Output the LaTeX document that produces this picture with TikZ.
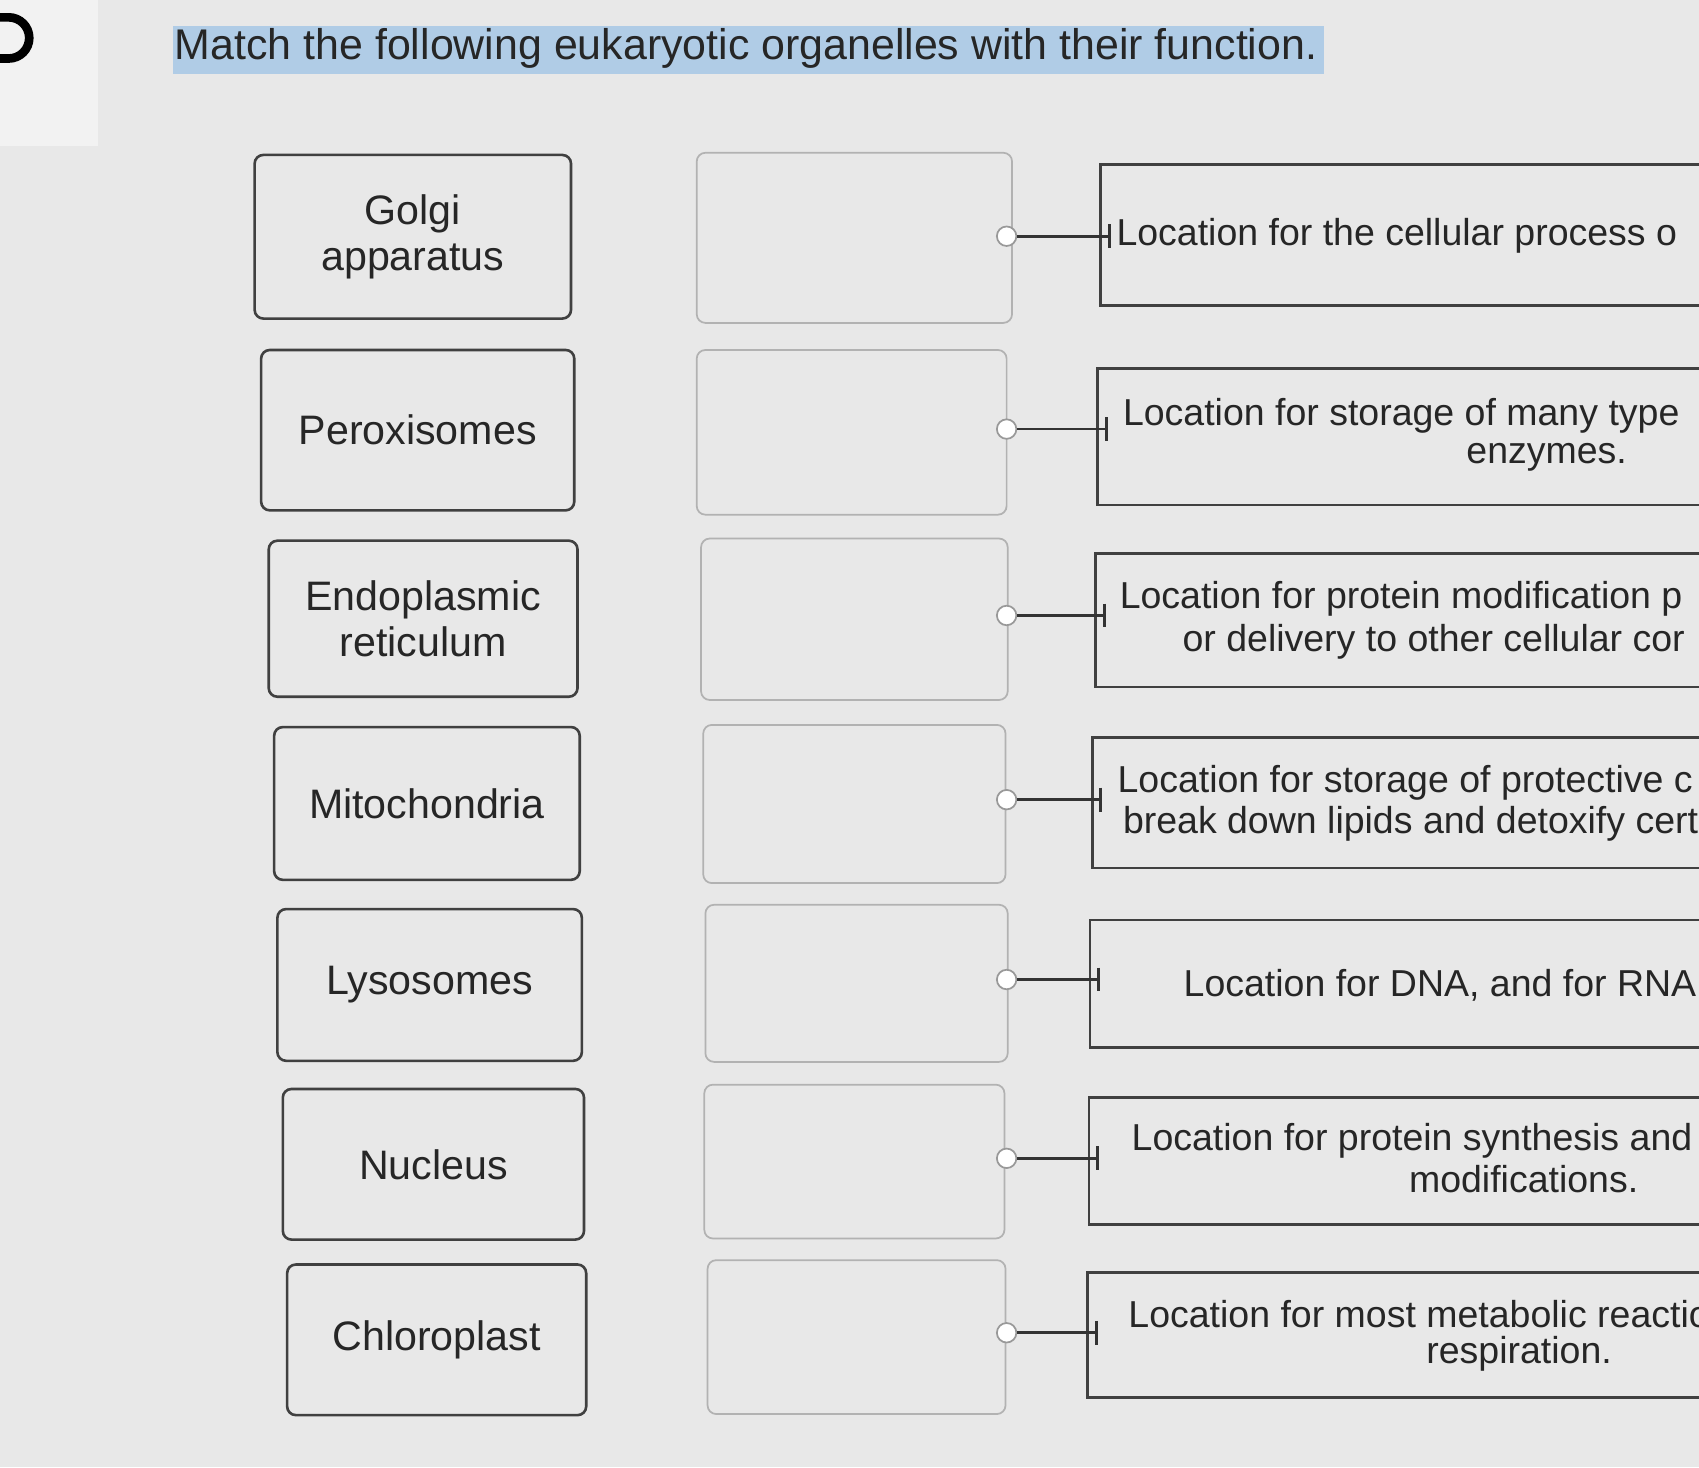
\documentclass[tikz,border=0pt]{standalone}
\usepackage{fontspec}
\setmainfont{Liberation Sans}
\definecolor{hl}{RGB}{176,204,230}
\begin{document}
\begin{tikzpicture}[x=0.5pt,y=-0.5pt,
  lbox/.style={draw=black!75,line width=1.2pt,rounded corners=4pt},
  mbox/.style={draw=black!30,line width=0.8pt,rounded corners=4pt},
  rbox/.style={draw=black!75,line width=1.3pt},
  ltxt/.style={font=\fontsize{19}{21}\selectfont,align=center,text=black!85},
  rtxt/.style={font=\fontsize{17.3}{19}\selectfont,anchor=west,text=black!85,inner sep=0pt},
  conn/.style={line width=1.3pt,draw=black!80},
  knob/.style={circle,draw=black!40,fill=white,minimum size=9pt,inner sep=0pt,line width=0.8pt}]
\useasboundingbox (0,0) rectangle (1568,1354);
\clip (0,0) rectangle (1568,1354);
\fill[black!9] (0,0) rectangle (1568,1354);
\fill[black!5] (0,0) rectangle (90,135);
\draw[black,line width=4pt] (-2,16) -- (8,16) arc (-90:90:19) -- (-2,54);
\fill[hl] (160,24) rectangle (1222,68);
\node[font=\fontsize{19.8}{22}\selectfont,anchor=west,inner sep=0pt,text=black!85] (title) at (161,45) {Match the following eukaryotic organelles with their function.};
% left boxes
\foreach \i/\xa/\xb/\ya/\yb/\t in {1/235/527/143/294/{Golgi\\apparatus},2/241/530/323/471/Peroxisomes,3/248/533/499/643/{Endoplasmic\\reticulum},4/253/535/671/812/Mitochondria,5/256/537/839/979/Lysosomes,6/261/539/1005/1144/Nucleus,7/265/541/1167/1306/Chloroplast}{
  \draw[lbox] (\xa,\ya) rectangle (\xb,\yb);
  \node[ltxt] (L\i) at ({(\xa+\xb)/2},{(\ya+\yb)/2}) {\t};
}
% middle boxes
\foreach \i/\xa/\xb/\ya/\yb in {1/643/934/141/298,2/643/929/323/475,3/647/930/497/646,4/649/928/669/815,5/651/930/835/980,6/650/927/1001/1143,7/653/928/1163/1305}{
  \draw[mbox] (\xa,\ya) rectangle (\xb,\yb);
}
% right boxes with connectors
\foreach \i/\xl/\ya/\yb/\yc in {1/1016/152/282/218,2/1013/340/466/396,3/1011/511/634/568,4/1008/681/801/738,5/1006/849/967/904,6/1005/1013/1130/1069,7/1004/1174/1290/1230}{
  \draw[rbox] (1600,\ya) -- (\xl,\ya) -- (\xl,\yb) -- (1600,\yb);
  \coordinate (T\i) at (\xl+8,\yc);
  \draw[conn] (T\i) ++(0,-11) -- ++(0,22);
  \node[knob] (K\i) at (929,\yc) {};
  \draw[conn] (K\i) -- (T\i);
}
\node[rtxt] (r1) at (1030,218) {Location for the cellular process o};
\node[rtxt] (r2a) at (1036,384) {Location for storage of many type};
\node[rtxt] (r2b) at (1353,422) {enzymes.};
\node[rtxt] (r3a) at (1033,553) {Location for protein modification p};
\node[rtxt] (r3b) at (1091,592) {or delivery to other cellular cor};
\node[rtxt] (r4a) at (1031,722) {Location for storage of protective c};
\node[rtxt] (r4b) at (1036,760) {break down lipids and detoxify cert};
\node[rtxt] (r5) at (1092,909) {Location for DNA, and for RNA};
\node[rtxt] (r6a) at (1044,1053) {Location for protein synthesis and};
\node[rtxt] (r6b) at (1300,1088) {modifications.};
\node[rtxt] (r7a) at (1041,1213) {Location for most metabolic reactio};
\node[rtxt] (r7b) at (1316,1249) {respiration.};
\end{tikzpicture}
\end{document}
